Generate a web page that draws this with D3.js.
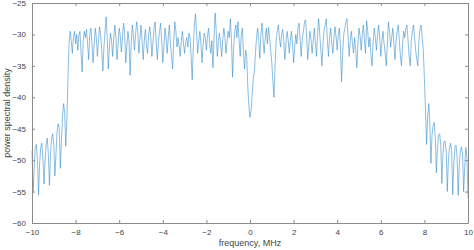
<!DOCTYPE html>
<html>
<head>
<meta charset="utf-8">
<script src="https://cdn.jsdelivr.net/npm/d3@7"></script>
<style>
  body { margin: 0; background: #fff; }
  svg { display: block; font-family: "Liberation Sans", Arial, sans-serif; }
</style>
</head>
<body>
<svg id="chart" width="474" height="250"></svg>
<script>
// axe des frequences (MHz) : pas d'echantillonnage
var fStart = -10, fStep = 0.05;

// densite spectrale, bord gauche -10 .. -8.25
var psdLeft = [
  -48.5,-55.0,-51.0,-48.0,-47.5,-50.0,-55.5,-50.5,-48.0,-47.3,
  -49.5,-53.8,-50.0,-47.5,-46.5,-49.0,-54.0,-49.0,-46.5,-45.8,
  -47.5,-52.5,-49.0,-45.5,-44.2,-45.0,-51.3,-47.0,-43.0,-41.0,
  -42.5,-47.8,-43.5,-37.0,-31.5,-29.5
];

// bande utile -8.20 .. 7.95
var psdBand = [
  -31.0,-33.0,-30.5,-29.5,-31.5,-30.0,-32.5,-30.2,-29.5,-33.0,-36.0,-31.0,-29.5,-30.5,-29.2,-31.5,-34.0,-30.0,-29.0,-31.5,
  -34.5,-31.5,-29.0,-30.5,-33.5,-31.0,-28.8,-30.0,-32.5,-35.8,-32.0,-29.5,-27.2,-30.5,-35.5,-32.0,-29.8,-31.0,-33.5,-30.5,
  -28.5,-30.5,-34.0,-31.5,-29.0,-30.2,-32.8,-30.5,-28.2,-29.8,-34.5,-32.0,-29.5,-31.0,-36.5,-31.5,-28.5,-30.0,-32.5,-30.0,
  -28.0,-29.5,-33.0,-30.8,-28.5,-31.0,-34.0,-31.0,-29.2,-31.8,-33.0,-30.0,-28.8,-30.5,-33.5,-31.2,-29.0,-28.0,-31.5,-34.0,
  -31.0,-29.5,-28.2,-31.0,-34.5,-32.0,-29.0,-30.5,-33.0,-30.5,-28.5,-31.5,-33.5,-35.5,-31.0,-28.0,-29.5,-32.0,-30.5,-31.8,
  -33.5,-31.0,-29.5,-31.5,-33.0,-31.2,-30.5,-32.0,-29.8,-30.5,-33.5,-37.2,-32.0,-28.5,-26.7,-30.0,-33.0,-31.0,-29.5,-31.5,
  -34.5,-31.5,-29.8,-30.5,-32.5,-30.2,-29.0,-31.5,-33.0,-31.0,-35.3,-30.5,-26.6,-29.5,-33.5,-31.0,-29.8,-31.5,-33.5,-30.8,
  -29.0,-30.5,-33.0,-31.0,-29.5,-30.5,-27.5,-31.0,-36.8,-32.0,-29.5,-28.5,-30.5,-28.0,-31.0,-33.5,-30.0,-29.0,-33.0,-35.5,
  -32.5,-33.5,-38.5,-41.5,-43.2,-42.0,-39.5,-37.0,-36.0,-33.0,-30.5,-29.0,-31.0,-33.8,-30.0,-28.2,-31.0,-33.0,-30.5,-29.0,
  -31.5,-28.9,-30.5,-32.5,-34.5,-37.5,-40.0,-35.0,-31.0,-29.5,-28.5,-30.5,-32.0,-30.0,-29.2,-31.0,-34.0,-31.5,-29.5,-30.8,
  -33.0,-31.0,-29.5,-31.5,-34.5,-32.0,-30.0,-31.5,-29.0,-28.2,-31.0,-33.5,-30.5,-29.5,-28.0,-27.7,-30.5,-34.0,-31.5,-29.5,
  -30.8,-33.0,-31.0,-29.0,-31.5,-33.5,-30.0,-27.5,-30.0,-32.5,-35.0,-31.5,-29.2,-28.5,-27.5,-31.0,-33.5,-30.5,-29.0,-31.5,
  -33.0,-30.5,-28.8,-30.5,-32.5,-30.0,-29.0,-32.0,-37.5,-33.0,-30.0,-29.0,-28.0,-27.5,-30.5,-33.5,-31.0,-29.5,-31.5,-33.0,
  -30.5,-32.5,-35.3,-31.5,-29.0,-30.2,-32.5,-30.0,-28.5,-31.0,-33.0,-27.8,-29.5,-32.0,-30.5,-33.5,-35.0,-31.0,-29.0,-30.5,
  -32.5,-30.2,-28.5,-30.5,-33.5,-31.0,-29.5,-31.5,-33.0,-35.0,-31.5,-28.0,-29.5,-32.0,-30.5,-29.0,-31.5,-34.0,-31.0,-29.5,
  -28.5,-31.0,-33.5,-35.0,-31.5,-29.5,-30.5,-29.0,-28.5,-31.0,-33.5,-35.0,-31.0,-29.5,-28.5,-30.5,-32.5,-34.0,-35.0,-31.0,
  -29.0,-28.5,-30.5,-32.5
];

// bord droit 8.00 .. 10.00
var psdRight = [
  -37.0,-42.0,-47.5,-43.0,-41.0,-44.0,-50.5,-46.0,-44.5,-44.0,
  -46.5,-52.0,-48.0,-46.0,-45.8,-47.5,-53.7,-49.0,-47.0,-47.0,
  -48.5,-55.0,-50.0,-48.0,-47.3,-48.5,-55.5,-50.5,-48.0,-47.6,
  -49.5,-55.6,-51.0,-48.5,-47.9,-49.0,-55.0,-51.0,-48.0,-49.5,
  -56.0
];

var xTicks = [-10,-8,-6,-4,-2,0,2,4,6,8,10];
var yTicks = [-60,-55,-50,-45,-40,-35,-30,-25];
var xLabel = "frequency, MHz";
var yLabel = "power spectral density";

var psd = psdLeft.concat(psdBand, psdRight);
var points = psd.map((v, i) => ({f: fStart + i * fStep, p: v}));

var W = 474, H = 250;
var m = {left: 32, right: 6, top: 3, bottom: 27};

var svg = d3.select("#chart");

var x = d3.scaleLinear().domain([-10, 10]).range([m.left, W - m.right]);
var y = d3.scaleLinear().domain([-60, -25]).range([H - m.bottom, m.top]);

var axisColor = "#8a8a8a", textColor = "#444";

// courbe
var line = d3.line().x(d => x(d.f)).y(d => y(d.p));
svg.append("path")
  .datum(points)
  .attr("fill", "none")
  .attr("stroke", "#2a86c8")
  .attr("stroke-width", 0.55)
  .attr("stroke-linejoin", "round")
  .attr("d", line);

// axes (ticks vers l'interieur, style matlab)
function styleAxis(g) {
  g.select(".domain").attr("stroke", axisColor);
  g.selectAll(".tick line").attr("stroke", axisColor);
  g.selectAll(".tick text").attr("fill", textColor).attr("font-size", 8);
}

svg.append("g")
  .attr("transform", `translate(0,${H - m.bottom})`)
  .call(d3.axisBottom(x).tickValues(xTicks).tickSize(-3).tickPadding(6).tickSizeOuter(0))
  .call(styleAxis);

svg.append("g")
  .attr("transform", `translate(0,${m.top})`)
  .call(d3.axisTop(x).tickValues(xTicks).tickSize(-3).tickFormat("").tickSizeOuter(0))
  .call(styleAxis);

svg.append("g")
  .attr("transform", `translate(${m.left},0)`)
  .call(d3.axisLeft(y).tickValues(yTicks).tickSize(-3).tickPadding(6).tickSizeOuter(0))
  .call(styleAxis);

svg.append("g")
  .attr("transform", `translate(${W - m.right},0)`)
  .call(d3.axisRight(y).tickValues(yTicks).tickSize(-3).tickFormat("").tickSizeOuter(0))
  .call(styleAxis);

// titres des axes
svg.append("text")
  .attr("x", (m.left + W - m.right) / 2)
  .attr("y", 246)
  .attr("text-anchor", "middle")
  .attr("font-size", 9)
  .attr("fill", textColor)
  .text(xLabel);

svg.append("text")
  .attr("transform", `translate(10,${(m.top + H - m.bottom) / 2}) rotate(-90)`)
  .attr("text-anchor", "middle")
  .attr("font-size", 9)
  .attr("fill", textColor)
  .text(yLabel);
</script>
</body>
</html>
